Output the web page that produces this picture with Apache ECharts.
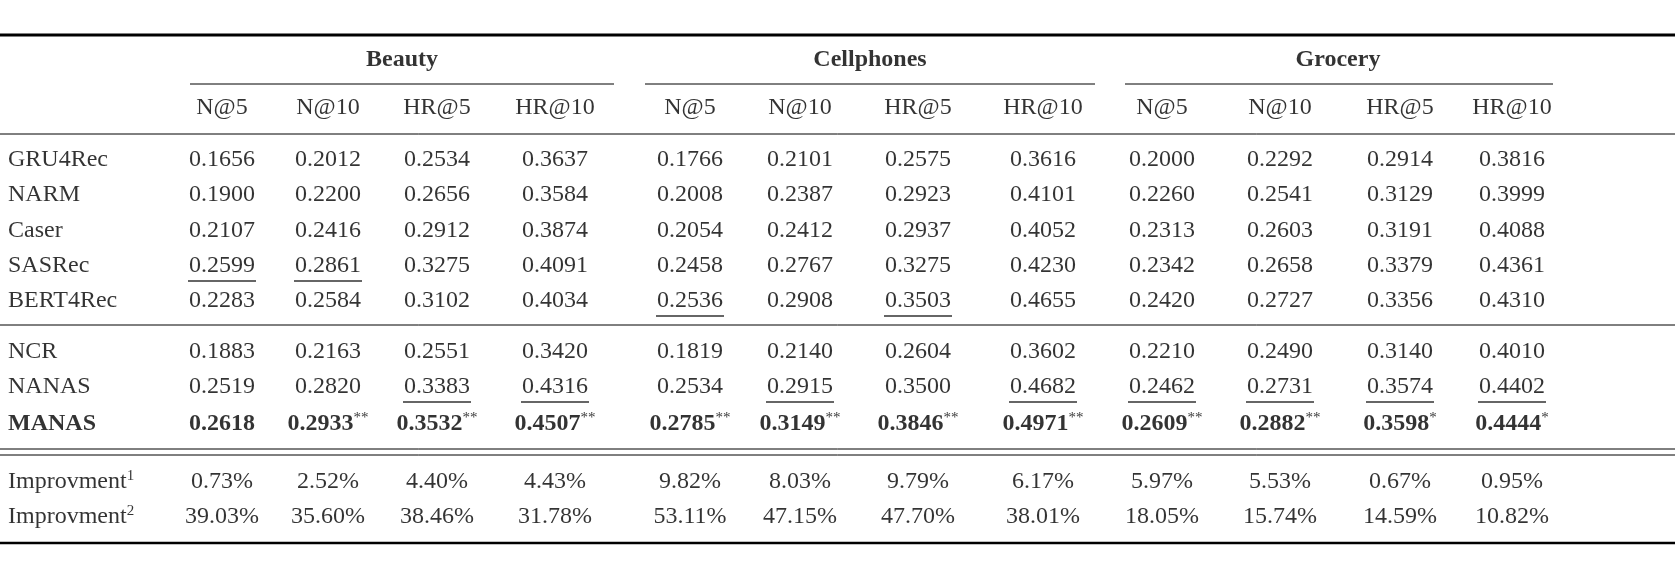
<!DOCTYPE html>
<html><head><meta charset="utf-8">
<script src="https://cdn.jsdelivr.net/npm/echarts@6/dist/echarts.min.js"></script>
<style>html,body{margin:0;padding:0;background:#fff}#c{width:1675px;height:584px}</style>
</head><body><div id="c"></div>
<script>
const groups = ['Beauty','Cellphones','Grocery'];
const metrics = ['N@5','N@10','HR@5','HR@10'];
const methods = ['GRU4Rec','NARM','Caser','SASRec','BERT4Rec','NCR','NANAS','MANAS'];
const GRU4Rec = ['0.1656','0.2012','0.2534','0.3637','0.1766','0.2101','0.2575','0.3616','0.2000','0.2292','0.2914','0.3816'];
const NARM    = ['0.1900','0.2200','0.2656','0.3584','0.2008','0.2387','0.2923','0.4101','0.2260','0.2541','0.3129','0.3999'];
const Caser   = ['0.2107','0.2416','0.2912','0.3874','0.2054','0.2412','0.2937','0.4052','0.2313','0.2603','0.3191','0.4088'];
const SASRec  = ['0.2599','0.2861','0.3275','0.4091','0.2458','0.2767','0.3275','0.4230','0.2342','0.2658','0.3379','0.4361'];
const BERT4Rec= ['0.2283','0.2584','0.3102','0.4034','0.2536','0.2908','0.3503','0.4655','0.2420','0.2727','0.3356','0.4310'];
const NCR     = ['0.1883','0.2163','0.2551','0.3420','0.1819','0.2140','0.2604','0.3602','0.2210','0.2490','0.3140','0.4010'];
const NANAS   = ['0.2519','0.2820','0.3383','0.4316','0.2534','0.2915','0.3500','0.4682','0.2462','0.2731','0.3574','0.4402'];
const MANAS   = ['0.2618','0.2933','0.3532','0.4507','0.2785','0.3149','0.3846','0.4971','0.2609','0.2882','0.3598','0.4444'];
const MANASsig= ['','**','**','**','**','**','**','**','**','**','*','*'];
const impr1   = ['0.73%','2.52%','4.40%','4.43%','9.82%','8.03%','9.79%','6.17%','5.97%','5.53%','0.67%','0.95%'];
const impr2   = ['39.03%','35.60%','38.46%','31.78%','53.11%','47.15%','47.70%','38.01%','18.05%','15.74%','14.59%','10.82%'];
const underlined = [[3,0],[3,1],[4,4],[4,6],[6,2],[6,3],[6,5],[6,7],[6,8],[6,9],[6,10],[6,11]];

// layout (pixel-space value axes)
const colX = [222,328,437,555,690,800,918,1043,1162,1280,1400,1512];
const groupX = [402,870,1338];
const rowY = [160,195,231,266,301,352,387,424];
const imprY = [482,517];
const headY = 60, metY = 108;

const values = [GRU4Rec,NARM,Caser,SASRec,BERT4Rec,NCR,NANAS,MANAS];
const F = 'Liberation Serif';
const C = '#000';
const pts = [];
groups.forEach((g,i)=>pts.push({value:[groupX[i],headY],t:'{b|'+g+'}'}));
colX.forEach((x,j)=>pts.push({value:[x,metY],t:metrics[j%4]}));
methods.forEach((m,r)=>{
  pts.push({value:[8,rowY[r]],t:r===7?'{b|'+m+'}':m,left:true});
  values[r].forEach((v,j)=>{
    pts.push({value:[colX[j],rowY[r]], t: r===7 ? '{b|'+v+'}'+(MANASsig[j]?'{s|'+MANASsig[j]+'}':'') : v});
  });
});
['Improvment','Improvment'].forEach((m,k)=>{
  pts.push({value:[8,imprY[k]],t:m+'{s|'+(k+1)+'}',left:true});
  (k?impr2:impr1).forEach((v,j)=>pts.push({value:[colX[j],imprY[k]],t:v}));
});
const ul = underlined.map(([r,c])=>[colX[c],rowY[r]+15]);

const rich = {b:{fontFamily:F,fontSize:24,fontWeight:'bold',color:C},
              s:{fontFamily:F,fontSize:15,color:C,padding:[0,0,12,0]}};
const chart = echarts.init(document.getElementById('c'));
const rules = [[0,1675,35,3],[190,614,84,1],[645,1095,84,1],[1125,1553,84,1],[0,1675,134,1],[0,1675,325,1],[0,1675,449,1],[0,1675,455,1],[0,1675,543,2.5]];
chart.setOption({
  animation:false,
  grid:{left:0,right:0,top:0,bottom:0},
  xAxis:{type:'value',min:0,max:1675,show:false},
  yAxis:{type:'value',min:0,max:584,inverse:true,show:false},
  series:[
    {type:'scatter',symbolSize:0,silent:true,
     data:pts.map(p=>({value:p.value,label:{show:true,formatter:p.t,position:p.left?'right':'inside',distance:0,
       align:p.left?'left':'center',verticalAlign:'middle',fontFamily:F,fontSize:24,color:C,rich:rich}}))},
    {type:'scatter',symbol:'rect',symbolSize:[68,1.5],itemStyle:{color:C},silent:true,data:ul},
    ...rules.map(([x0,x1,y,w])=>({type:'line',silent:true,symbol:'none',lineStyle:{color:C,width:w},data:[[x0,y],[x1,y]]}))
  ]
});
</script></body></html>
